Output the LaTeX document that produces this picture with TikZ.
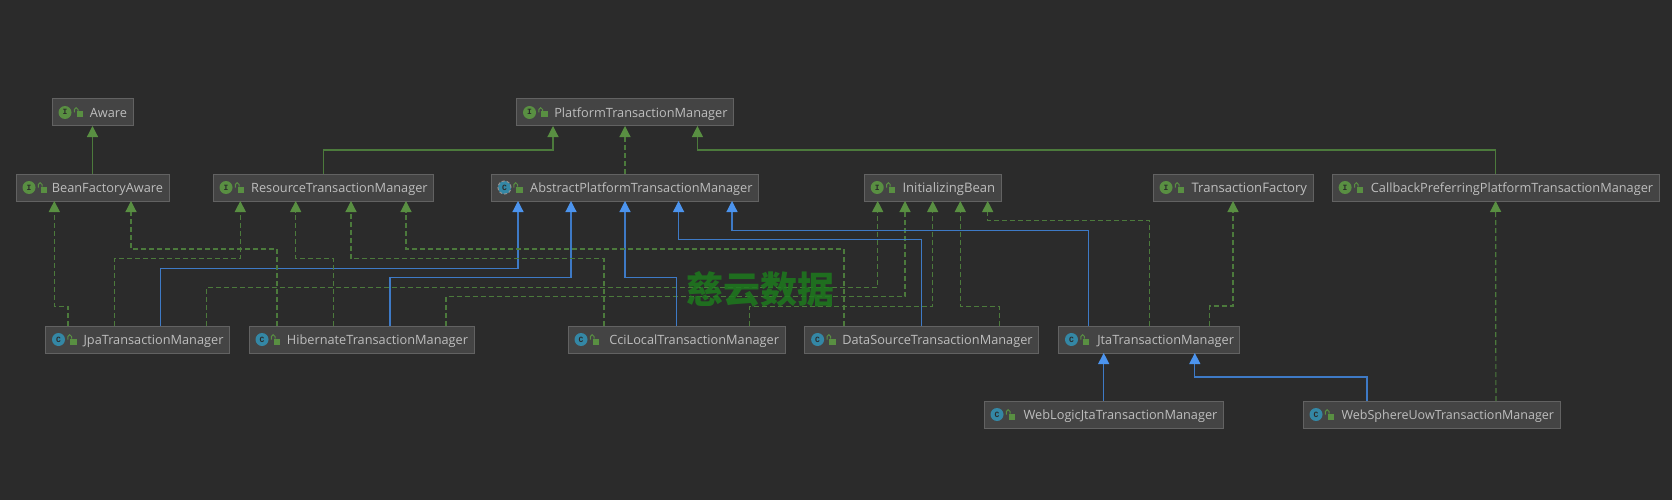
\documentclass[tikz,border=0pt]{standalone}
\usepackage{fontspec}
\setmainfont{Open Sans}
\newfontfamily\cjk{Noto Sans CJK SC}
\newfontfamily\iconfont{Liberation Mono}
\usetikzlibrary{arrows.meta, positioning}
\definecolor{canvasgray}{RGB}{43, 43, 43}
\definecolor{boxgray}{RGB}{68, 68, 68}
\definecolor{edgegray}{RGB}{98, 98, 98}
\definecolor{labelgray}{RGB}{190, 190, 190}
\definecolor{ifacegreen}{RGB}{89, 143, 66}
\definecolor{linegreen}{RGB}{76, 122, 60}
\definecolor{classteal}{RGB}{52, 135, 165}
\definecolor{headblue}{RGB}{76, 148, 238}
\definecolor{lineblue}{RGB}{62, 122, 198}
\definecolor{stampgreen}{RGB}{30, 122, 30}
\tikzset{
    umlbox/.style={draw=edgegray, fill=boxgray, line width=1pt, minimum height=27pt, inner xsep=6pt, inner ysep=0pt, outer sep=0pt, align=right, font=\fontsize{12.75}{14}\selectfont, text=labelgray, text height=10pt, text depth=0pt},
    widebox/.style={umlbox, font=\fontsize{13.1}{14}\selectfont},
    slimbox/.style={umlbox, font=\fontsize{12.5}{14}\selectfont},
    ifaceicon/.style={circle, fill=ifacegreen, minimum size=13pt, inner sep=0pt, font=\iconfont\bfseries\fontsize{8}{8}\selectfont, text=canvasgray, text height=5pt, text depth=0pt},
    classicon/.style={ifaceicon, fill=classteal},
    abstracticon/.style={classicon, draw=edgegray!70!white, densely dashed, line width=1pt},
    padlock/.pic={
        \fill[ifacegreen] (-2.5,-1) rectangle (4,5);
        \draw[ifacegreen, line width=1pt] (-1,-1) -- (-1,-3) arc[start angle=0, end angle=-180, radius=1.8] -- (-4.6,0);
    },
    inherit/.style={-{Triangle[length=11pt, width=11pt, color=ifacegreen]}, linegreen, line width=1.2pt},
    realize/.style={inherit, dash pattern=on 5pt off 3pt},
    extend/.style={-{Triangle[length=11pt, width=11pt, color=headblue]}, lineblue, line width=1.2pt},
    stamp/.style={font=\cjk\bfseries\fontsize{37}{37}\selectfont, text=stampgreen, opacity=.85, inner sep=0pt},
}
\begin{document}
\begin{tikzpicture}[x=1pt, y=-1pt]
    \fill[canvasgray] (0,0) rectangle (1672,500);
    % interfaces
    \node[umlbox, minimum width=81pt, text width=69pt] (aware) at (92.5,112.5) {Aware};
    \node[umlbox, minimum width=217pt, text width=205pt] (platform) at (625,112.5) {PlatformTransactionManager};
    \node[umlbox, minimum width=153pt, text width=141pt] (bean) at (92.5,187.5) {BeanFactoryAware};
    \node[umlbox, minimum width=220.6pt, text width=208.6pt] (resource) at (323.3,187.5) {ResourceTransactionManager};
    \node[widebox, minimum width=137pt, text width=125pt] (initializing) at (932.7,187.5) {InitializingBean};
    \node[widebox, minimum width=160pt, text width=148pt] (factory) at (1233,187.5) {TransactionFactory};
    \node[umlbox, minimum width=327pt, text width=315pt] (callback) at (1495.6,187.5) {CallbackPreferringPlatformTransactionManager};
    % classes
    \node[umlbox, minimum width=267pt, text width=255pt] (abstract) at (625,187.5) {AbstractPlatformTransactionManager};
    \node[umlbox, minimum width=184pt, text width=172pt] (jpa) at (137.5,339.5) {JpaTransactionManager};
    \node[umlbox, minimum width=225pt, text width=213pt] (hibernate) at (361.5,339.5) {HibernateTransactionManager};
    \node[umlbox, minimum width=217pt, text width=205pt] (cci) at (676.5,339.5) {CciLocalTransactionManager};
    \node[umlbox, minimum width=234pt, text width=222pt] (datasource) at (921.6,339.5) {DataSourceTransactionManager};
    \node[umlbox, minimum width=181.5pt, text width=169.5pt] (jta) at (1149.2,339.5) {JtaTransactionManager};
    \node[umlbox, minimum width=239.4pt, text width=227.4pt] (weblogic) at (1103.7,414.5) {WebLogicJtaTransactionManager};
    \node[slimbox, minimum width=257pt, text width=245pt] (websphere) at (1431.5,414.5) {WebSphereUowTransactionManager};
    % icons
    \foreach \n in {aware, platform, bean, resource, initializing, factory, callback} {
        \node[ifaceicon] (\n icon) at ([xshift=13pt]\n.west) {I};
        \pic at ([xshift=27pt]\n.west) {padlock};
    }
    \foreach \n in {jpa, hibernate, cci, datasource, jta, weblogic, websphere} {
        \node[classicon] (\n icon) at ([xshift=13pt]\n.west) {C};
        \pic at ([xshift=27pt]\n.west) {padlock};
    }
    \node[abstracticon] (abstract icon) at ([xshift=13pt]abstract.west) {C};
    \pic at ([xshift=27pt]abstract.west) {padlock};
    % top row
    \draw[inherit] (bean.north) -- (aware.south);
    \draw[inherit] (resource.north) -- ++(0,-24) -| ([xshift=-72pt]platform.south);
    \draw[realize] (abstract.north) -- (platform.south);
    \draw[inherit] (callback.north) -- ++(0,-24) -| ([xshift=72.4pt]platform.south);
    % jpa
    \draw[realize] ([xshift=-69.6pt]jpa.north) -- ++(0,-19.7) -| ([xshift=-38.2pt]bean.south);
    \draw[realize] ([xshift=-22.9pt]jpa.north) -- ++(0,-67.3) -| ([xshift=-83pt]resource.south);
    \draw[extend] ([xshift=23.2pt]jpa.north) -- ++(0,-57.7) -| ([xshift=-107pt]abstract.south);
    \draw[realize] ([xshift=69.3pt]jpa.north) -- ++(0,-38.7) -| ([xshift=-55pt]initializing.south);
    % hibernate
    \draw[realize] ([xshift=-84.5pt]hibernate.north) -- ++(0,-77) -| ([xshift=38.5pt]bean.south);
    \draw[realize] ([xshift=-28pt]hibernate.north) -- ++(0,-67.3) -| ([xshift=-27.6pt]resource.south);
    \draw[extend] ([xshift=28.5pt]hibernate.north) -- ++(0,-48.3) -| ([xshift=-54pt]abstract.south);
    \draw[realize] ([xshift=84.5pt]hibernate.north) -- ++(0,-29.3) -| ([xshift=-27.7pt]initializing.south);
    % cci
    \draw[realize] ([xshift=-72.5pt]cci.north) -- ++(0,-67.3) -| ([xshift=27.7pt]resource.south);
    \draw[extend] (cci.north) -- ++(0,-48.3) -| (abstract.south);
    \draw[realize] ([xshift=72.9pt]cci.north) -- ++(0,-19.7) -| (initializing.south);
    % datasource
    \draw[realize] ([xshift=-77.6pt]datasource.north) -- ++(0,-77) -| ([xshift=82.7pt]resource.south);
    \draw[extend] (datasource.north) -- ++(0,-86.3) -| ([xshift=53.6pt]abstract.south);
    \draw[realize] ([xshift=78pt]datasource.north) -- ++(0,-19.7) -| ([xshift=27.6pt]initializing.south);
    % jta
    \draw[extend] ([xshift=-60.4pt]jta.north) -- ++(0,-95.7) -| ([xshift=107pt]abstract.south);
    \draw[realize] (jta.north) -- ++(0,-105.3) -| ([xshift=55pt]initializing.south);
    \draw[realize] ([xshift=60.5pt]jta.north) -- ++(0,-20) -| (factory.south);
    \draw[extend] (weblogic.north) -- ([xshift=-45.5pt]jta.south);
    \draw[extend] ([xshift=-64.6pt]websphere.north) -- ++(0,-24) -| ([xshift=45.6pt]jta.south);
    \draw[realize] ([xshift=64.4pt]websphere.north) -- (callback.south);
    \node[stamp] (watermark) at (760,289) {慈云数据};
\end{tikzpicture}
\end{document}
